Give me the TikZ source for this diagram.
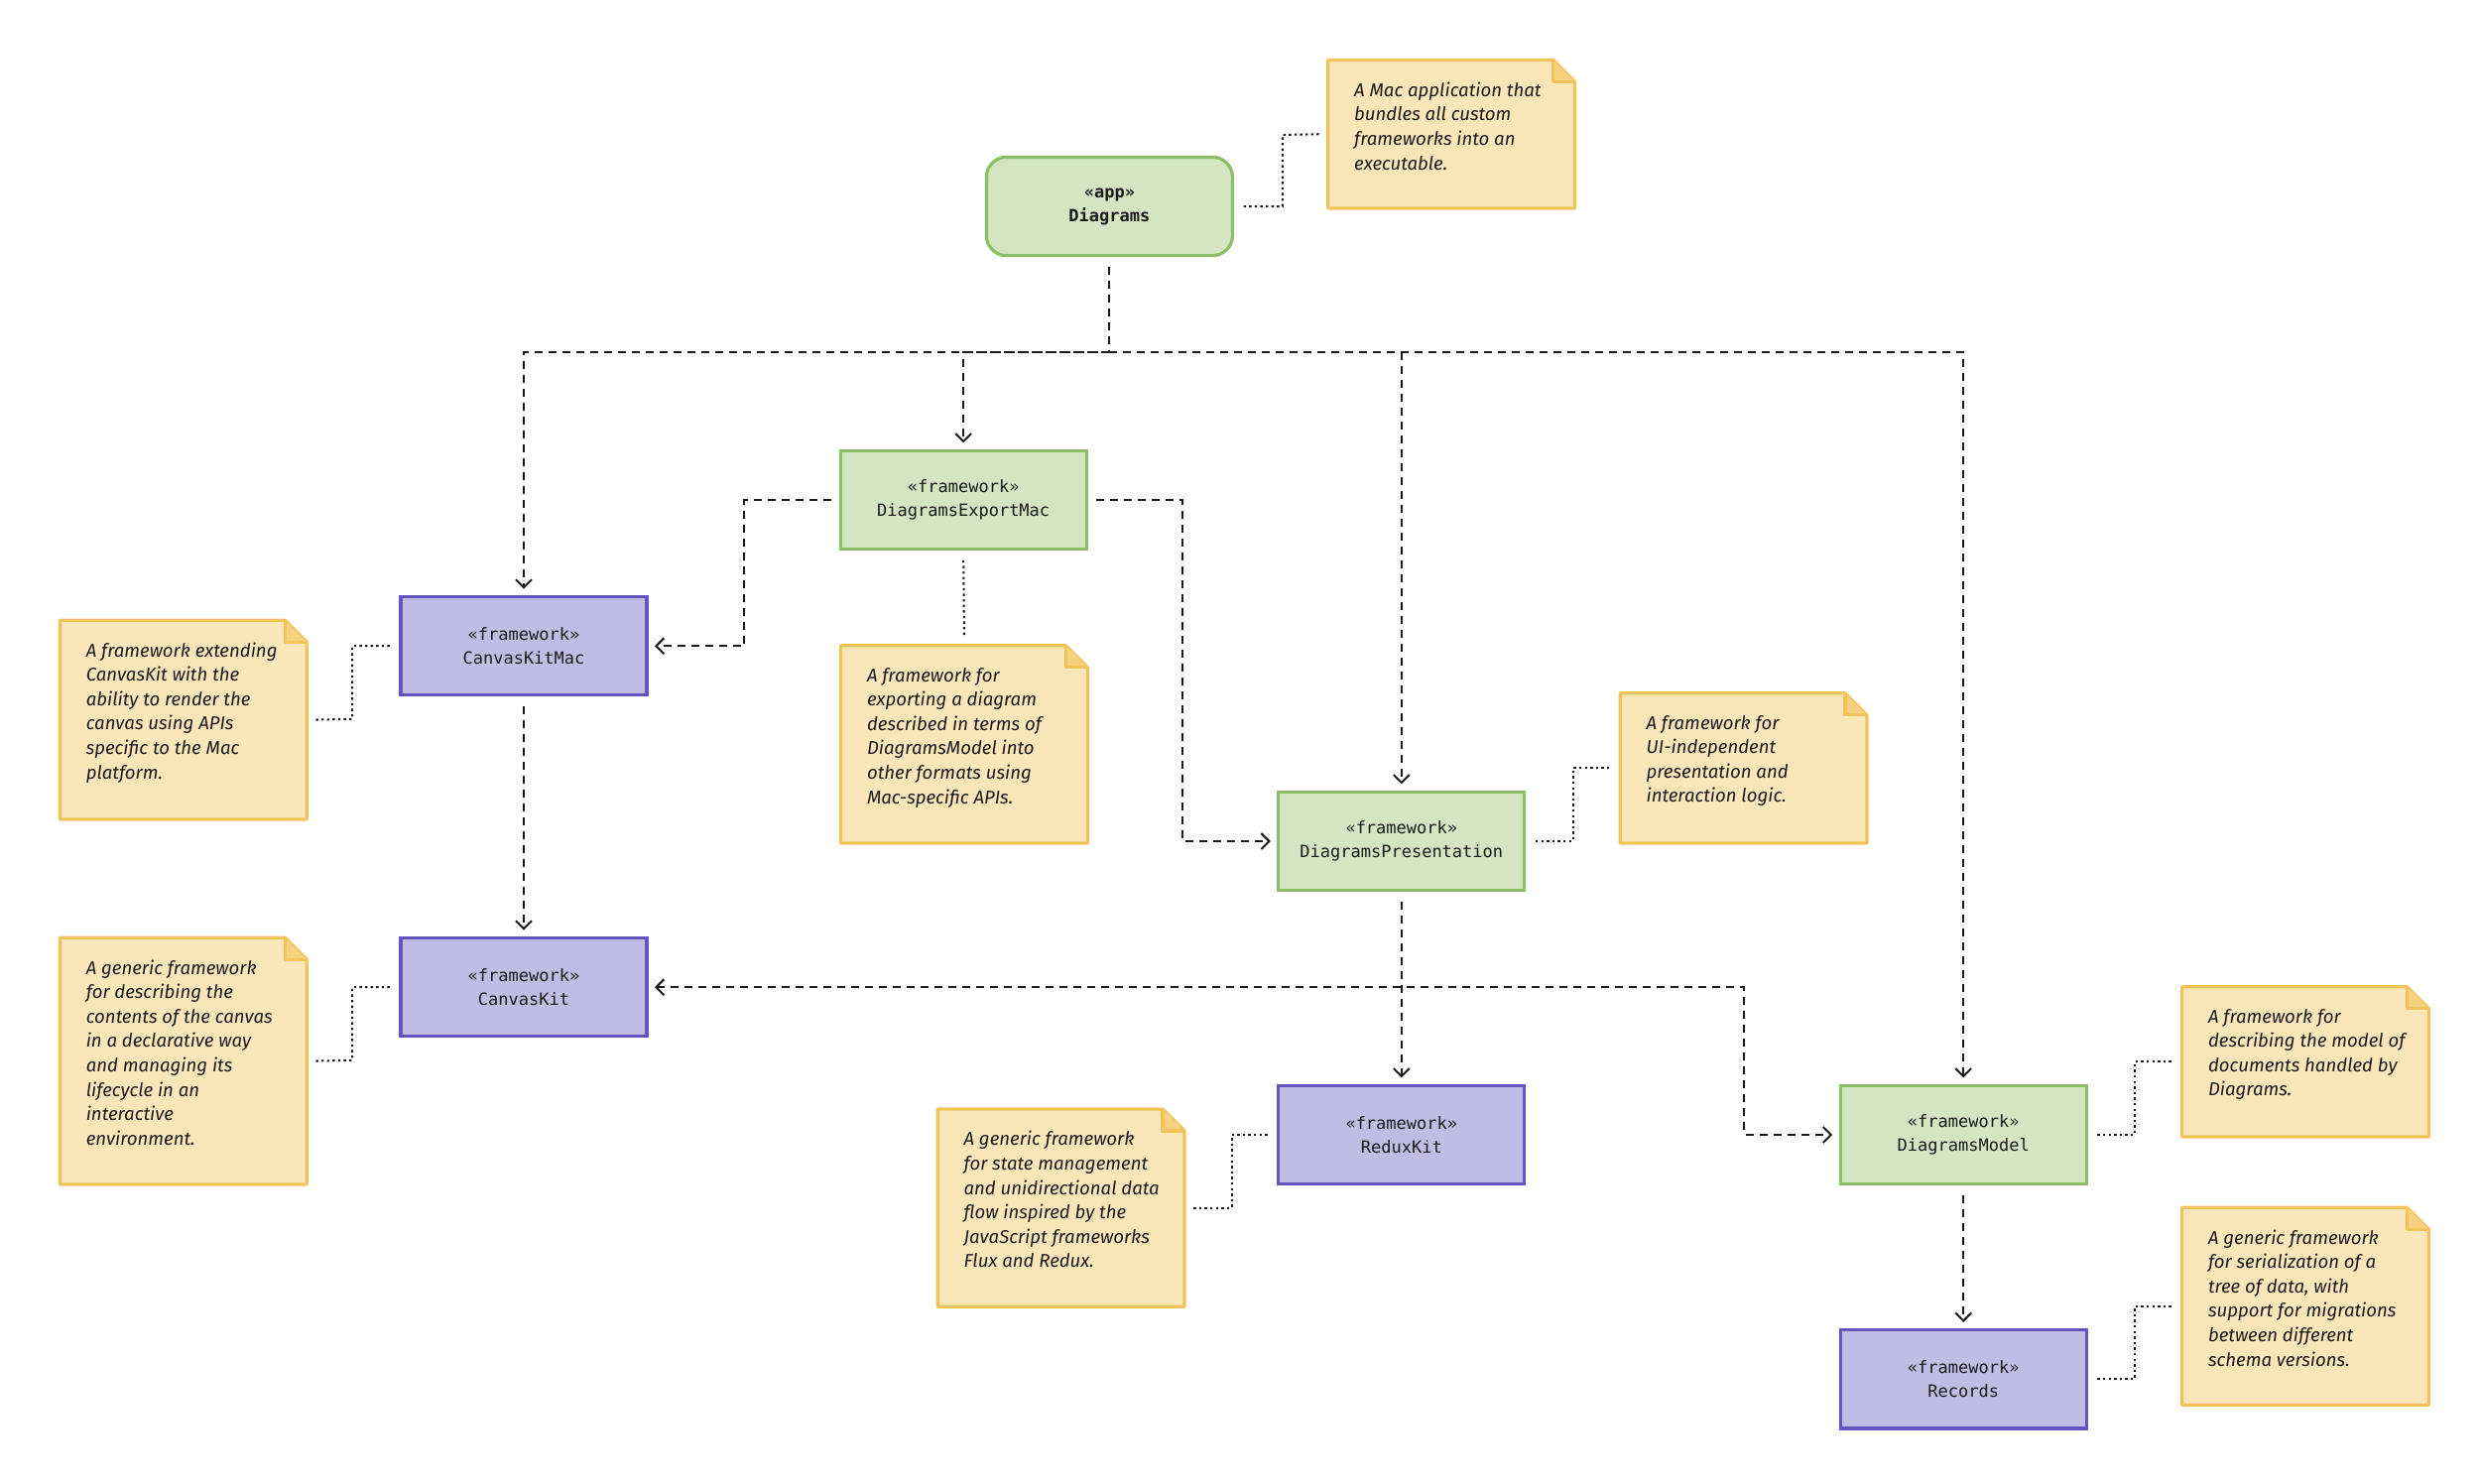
\documentclass[tikz,border=0pt]{standalone}
\usepackage{fontspec}
\setmainfont{Fira Sans}
\setmonofont{DejaVu Sans Mono}
\usetikzlibrary{arrows.meta,calc}
\definecolor{gfill}{HTML}{D3E5C1}
\definecolor{gline}{HTML}{8CC068}
\definecolor{pfill}{HTML}{C0BCE3}
\definecolor{pline}{HTML}{6553C2}
\definecolor{nfill}{HTML}{FAE6B8}
\definecolor{nline}{HTML}{F3C35B}
\definecolor{ink}{HTML}{1A1A1A}
\tikzset{
  comp/.style={minimum width=155*0.8pt,minimum height=62*0.8pt,line width=1.6pt,align=center,
    font=\ttfamily\fontsize{8.5}{12}\selectfont,text=ink,inner sep=0pt},
  green/.style={comp,fill=gfill,draw=gline},
  purple/.style={comp,fill=pfill,draw=pline},
  notebox/.style={inner sep=0pt},
  notetext/.style={anchor=north west,align=left,font=\itshape\fontsize{9.3}{12.3}\selectfont,text=ink,inner sep=0pt},
  dep/.style={draw=ink,line width=1pt,dash pattern=on 4pt off 3pt,-{Straight Barb[length=4pt,width=8pt]}},
  link/.style={draw=ink,line width=1pt,dash pattern=on 1.2pt off 1.6pt}
}
\newcommand{\mknote}[6]{%
  \node[notebox,minimum width=#4*0.8pt,minimum height=#5*0.8pt] (#1) at (#2,#3) {};
  \draw[fill=nfill,draw=nline,line width=1.6pt,line join=round]
    (#1.north west) -- ($(#1.north east)+(-11pt,0)$) -- ($(#1.north east)+(0,-11pt)$) -- (#1.south east) -- (#1.south west) -- cycle;
  \draw[fill=nline!60!nfill,draw=nline,line width=1.6pt,line join=round]
    ($(#1.north east)+(-11pt,0)$) -- ($(#1.north east)+(-11pt,-11pt)$) -- ($(#1.north east)+(0,-11pt)$);
  \node[notetext] at ($(#1.north west)+(13pt,-11pt)$) {#6};
}
\begin{document}
\begin{tikzpicture}[x=0.8pt,y=-0.8pt]
\useasboundingbox (0,0) rectangle (1562.5,934.4);
% components
\node[green,rounded corners=10pt] (app) at (699,130) {\textbf{«app»}\\\textbf{Diagrams}};
\node[green] (exp) at (607,315) {«framework»\\DiagramsExportMac};
\node[purple] (ckm) at (330,407) {«framework»\\CanvasKitMac};
\node[green] (pres) at (883,530) {«framework»\\DiagramsPresentation};
\node[purple] (ck) at (330,622) {«framework»\\CanvasKit};
\node[purple] (redux) at (883,715) {«framework»\\ReduxKit};
\node[green] (model) at (1237,715) {«framework»\\DiagramsModel};
\node[purple] (rec) at (1237,869) {«framework»\\Records};
% notes
\mknote{n1}{914.5}{84.5}{155}{93}{A Mac application that\\bundles all custom\\frameworks into an\\executable.}
\mknote{n2}{115.5}{453.5}{155}{125}{A framework extending\\CanvasKit with the\\ability to render the\\canvas using APIs\\specific to the Mac\\platform.}
\mknote{n3}{607.5}{469}{155}{124}{A framework for\\exporting a diagram\\described in terms of\\DiagramsModel into\\other formats using\\Mac-specific APIs.}
\mknote{n4}{1098.5}{484}{155}{94}{A framework for\\UI-independent\\presentation and\\interaction logic.}
\mknote{n5}{115.5}{668.5}{155}{155}{A generic framework\\for describing the\\contents of the canvas\\in a declarative way\\and managing its\\lifecycle in an\\interactive\\environment.}
\mknote{n6}{668.5}{761}{155}{124}{A generic framework\\for state management\\and unidirectional data\\flow inspired by the\\JavaScript frameworks\\Flux and Redux.}
\mknote{n7}{1452.5}{669}{155}{94}{A framework for\\describing the model of\\documents handled by\\Diagrams.}
\mknote{n8}{1452.5}{823}{155}{124}{A generic framework\\for serialization of a\\tree of data, with\\support for migrations\\between different\\schema versions.}
% dependencies
\coordinate (hub) at (699,222);
\draw[dep] ($(app.south)+(0,6)$) -- (hub) -| ($(ckm.north)+(0,-4)$);
\draw[dep] (hub) -| ($(exp.north)+(0,-4)$);
\draw[dep] (hub) -| ($(pres.north)+(0,-4)$);
\draw[dep] (hub) -| ($(model.north)+(0,-4)$);
\draw[dep] ($(exp.west)+(-5,0)$) -| (469,407) -- ($(ckm.east)+(4,0)$);
\draw[dep] ($(exp.east)+(5,0)$) -| (745,530) -- ($(pres.west)+(-4,0)$);
\draw[dep] ($(ckm.south)+(0,6)$) -- ($(ck.north)+(0,-4)$);
\draw[dep] ($(pres.south)+(0,6)$) -- ($(redux.north)+(0,-4)$);
\draw[dep] ($(model.south)+(0,6)$) -- ($(rec.north)+(0,-4)$);
\draw[dep,{Straight Barb[length=4pt,width=8pt]}-{Straight Barb[length=4pt,width=8pt]}] ($(ck.east)+(4,0)$) -| (1099,715) -- ($(model.west)+(-4,0)$);
% note links
\draw[link] ($(app.east)+(6,0)$) -| (808,85) -- ($(n1.west)+(-5,0)$);
\draw[link] ($(ckm.west)+(-6,0)$) -| (222,453) -- ($(n2.east)+(5,0)$);
\draw[link] ($(exp.south)+(0,6)$) -- ($(n3.north)+(0,-5)$);
\draw[link] ($(pres.east)+(6,0)$) -| (991,484) -- ($(n4.west)+(-5,0)$);
\draw[link] ($(ck.west)+(-6,0)$) -| (222,668) -- ($(n5.east)+(5,0)$);
\draw[link] ($(redux.west)+(-6,0)$) -| (776,761) -- ($(n6.east)+(5,0)$);
\draw[link] ($(model.east)+(6,0)$) -| (1345,669) -- ($(n7.west)+(-5,0)$);
\draw[link] ($(rec.east)+(6,0)$) -| (1345,823) -- ($(n8.west)+(-5,0)$);
\end{tikzpicture}
\end{document}
